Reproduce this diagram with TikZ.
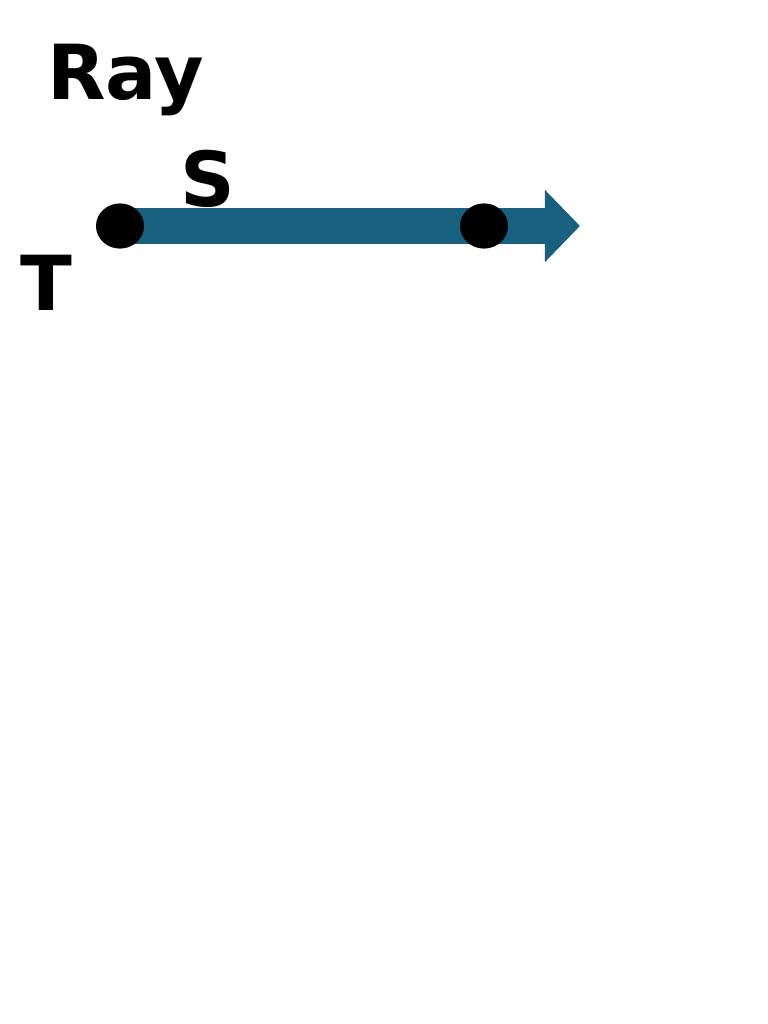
\documentclass[tikz,border=0pt]{standalone}
\usepackage{fontspec}
\setmainfont{DejaVu Sans}
\usetikzlibrary{arrows.meta,shapes.geometric,backgrounds}
\definecolor{raycol}{RGB}{23,96,128}
\begin{document}
\begin{tikzpicture}[x=0.025cm,y=-0.025cm,
  dot/.style={ellipse,fill=black,inner sep=0pt,minimum width=1.2cm,minimum height=1.13cm},
  lbl/.style={anchor=base west,inner sep=0pt,font=\fontsize{54}{60}\selectfont\bfseries}]
\useasboundingbox (0,0) rectangle (768,1024);
\node[dot] (a) at (120,226) {};
\node[dot] (b) at (484,226) {};
\coordinate (tip) at (580,226);
\begin{scope}[on background layer]
\draw[raycol,line width=0.9cm,-{Triangle[length=0.875cm,width=1.75cm]}] (a.center) -- (tip);
\end{scope}
\node[lbl] (ray) at (47,100) {Ray};
\node[lbl] (s) at (180,207) {S};
\node[lbl] (t) at (20,310) {T};
\end{tikzpicture}
\end{document}
